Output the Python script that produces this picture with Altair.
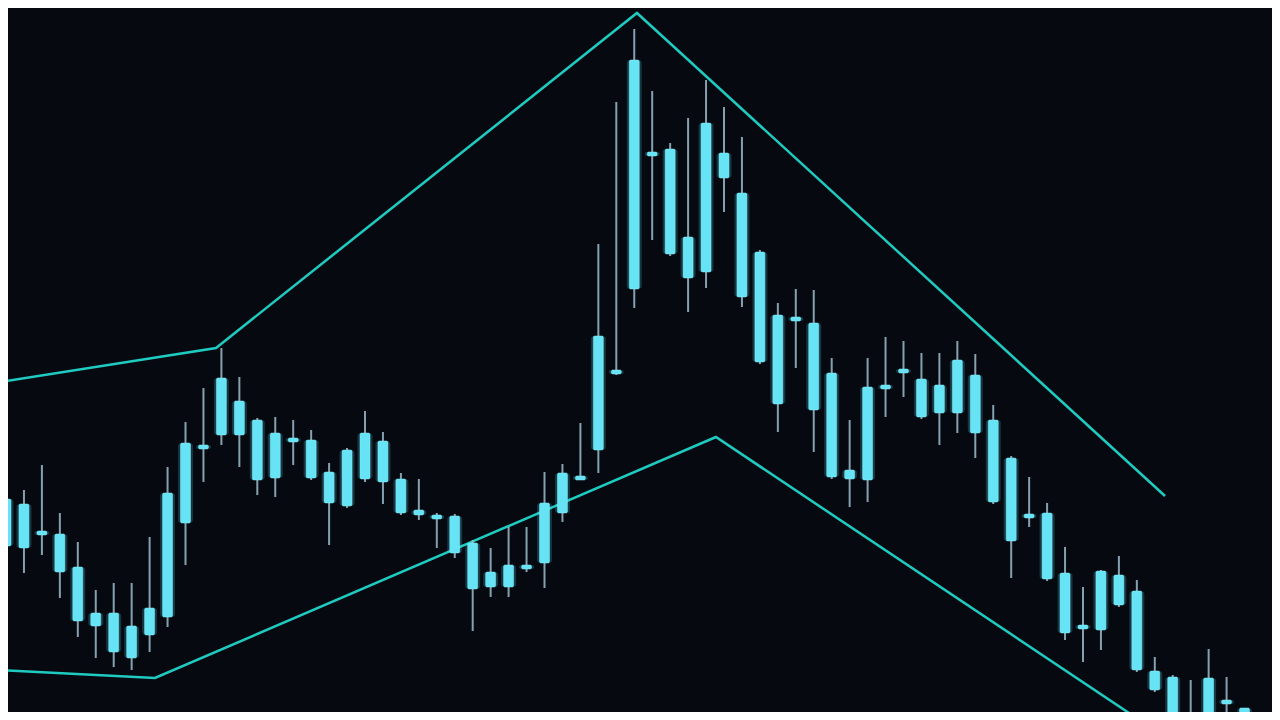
import altair as alt
import pandas as pd

# Candle index and prices (price units: higher = up)
idx = list(range(70))
high = [238, 230, 255, 207, 178, 130, 137, 137, 183, 253, 298, 332, 372, 343, 302, 303, 300, 290,
        257, 272, 309, 288, 247, 241, 207, 206, 180, 172, 193, 193, 248, 256, 297, 476, 618, 691,
        629, 577, 602, 640, 613, 583, 470, 417, 431, 430, 362, 300, 362, 383, 379, 367, 367, 379,
        366, 315, 264, 243, 217, 173, 133, 150, 164, 140, 63, 45, 40, 71, 43, 12]
open_ = [221, 216, 189, 186, 153, 107, 107, 94, 112, 103, 197, 275, 342, 319, 240, 242, 282, 280,
         248, 270, 287, 279, 241, 210, 205, 204, 177, 148, 155, 155, 217, 247, 244, 384, 350, 660,
         568, 466, 483, 597, 567, 527, 468, 405, 403, 397, 347, 250, 333, 335, 351, 341, 335, 360,
         345, 300, 262, 206, 207, 147, 95, 149, 145, 129, 49, 43, 7, 42, 20, 12]
close = [174, 172, 185, 148, 99, 94, 68, 62, 85, 227, 277, 271, 285, 285, 300, 287, 278, 242,
         217, 214, 241, 238, 207, 205, 201, 167, 131, 133, 133, 151, 157, 207, 240, 270, 346, 431,
         564, 571, 442, 448, 542, 423, 358, 316, 399, 310, 243, 241, 240, 331, 347, 303, 307, 307,
         287, 218, 179, 202, 141, 87, 91, 90, 115, 50, 30, -10, 3, -10, 16, -20]
low = [121, 147, 165, 122, 83, 62, 53, 50, 68, 93, 155, 238, 275, 253, 225, 223, 255, 240,
       175, 212, 238, 216, 205, 200, 172, 162, 89, 123, 123, 148, 132, 198, 240, 247, 345, 412,
       480, 464, 408, 432, 508, 413, 356, 288, 352, 268, 241, 213, 218, 303, 323, 301, 275, 287,
       262, 216, 142, 193, 139, 80, 58, 70, 113, 48, 28, -10, -5, -15, -15, -25]

# Trend channel vertices (candle index, price)
upper_i = [-0.33, 11.70, 35.15, 64.57]
upper_p = [338, 372, 707, 224]
lower_i = [-0.33, 8.30, 39.55, 63.73]
lower_p = [50, 42, 283, -7]

candles = pd.DataFrame({"i": idx, "open": open_, "close": close, "high": high, "low": low})
lines = pd.DataFrame({
    "i": upper_i + lower_i,
    "p": upper_p + lower_p,
    "line": ["upper"] * len(upper_i) + ["lower"] * len(lower_i),
})

xs = alt.Scale(domain=[0.111, 70.53], nice=False, zero=False, padding=0)
ys = alt.Scale(domain=[8, 712], nice=False, zero=False, padding=0)

base = alt.Chart(candles).encode(x=alt.X("i:Q", scale=xs, axis=None))

wicks = base.mark_rule(color="#9cbccc", strokeWidth=2, opacity=0.85, clip=True).encode(
    y=alt.Y("low:Q", scale=ys, axis=None), y2="high:Q"
)
glow = base.mark_bar(color="#4fd8f0", opacity=0.22, width=15, cornerRadius=3, clip=True).encode(
    y=alt.Y("open:Q", scale=ys, axis=None), y2="close:Q"
)
bodies = base.mark_bar(color="#66e4f5", width=10, cornerRadius=1.5, clip=True,
                       stroke="#8aecf8", strokeWidth=0.5).encode(
    y=alt.Y("open:Q", scale=ys, axis=None), y2="close:Q"
)
channel = alt.Chart(lines).mark_line(color="#1fcbc0", strokeWidth=2.5, clip=True).encode(
    x=alt.X("i:Q", scale=xs, axis=None),
    y=alt.Y("p:Q", scale=ys, axis=None),
    detail="line:N",
    order="i:Q",
)

chart = alt.layer(channel, wicks, glow, bodies).properties(
    width=1264, height=704, padding=0,
    autosize=alt.AutoSizeParams(type="fit", contains="padding"),
    background="#060a10",
).configure_view(stroke=None, fill="#060a10")

chart.save("out.html", embed_options={"renderer": "svg", "actions": False})
